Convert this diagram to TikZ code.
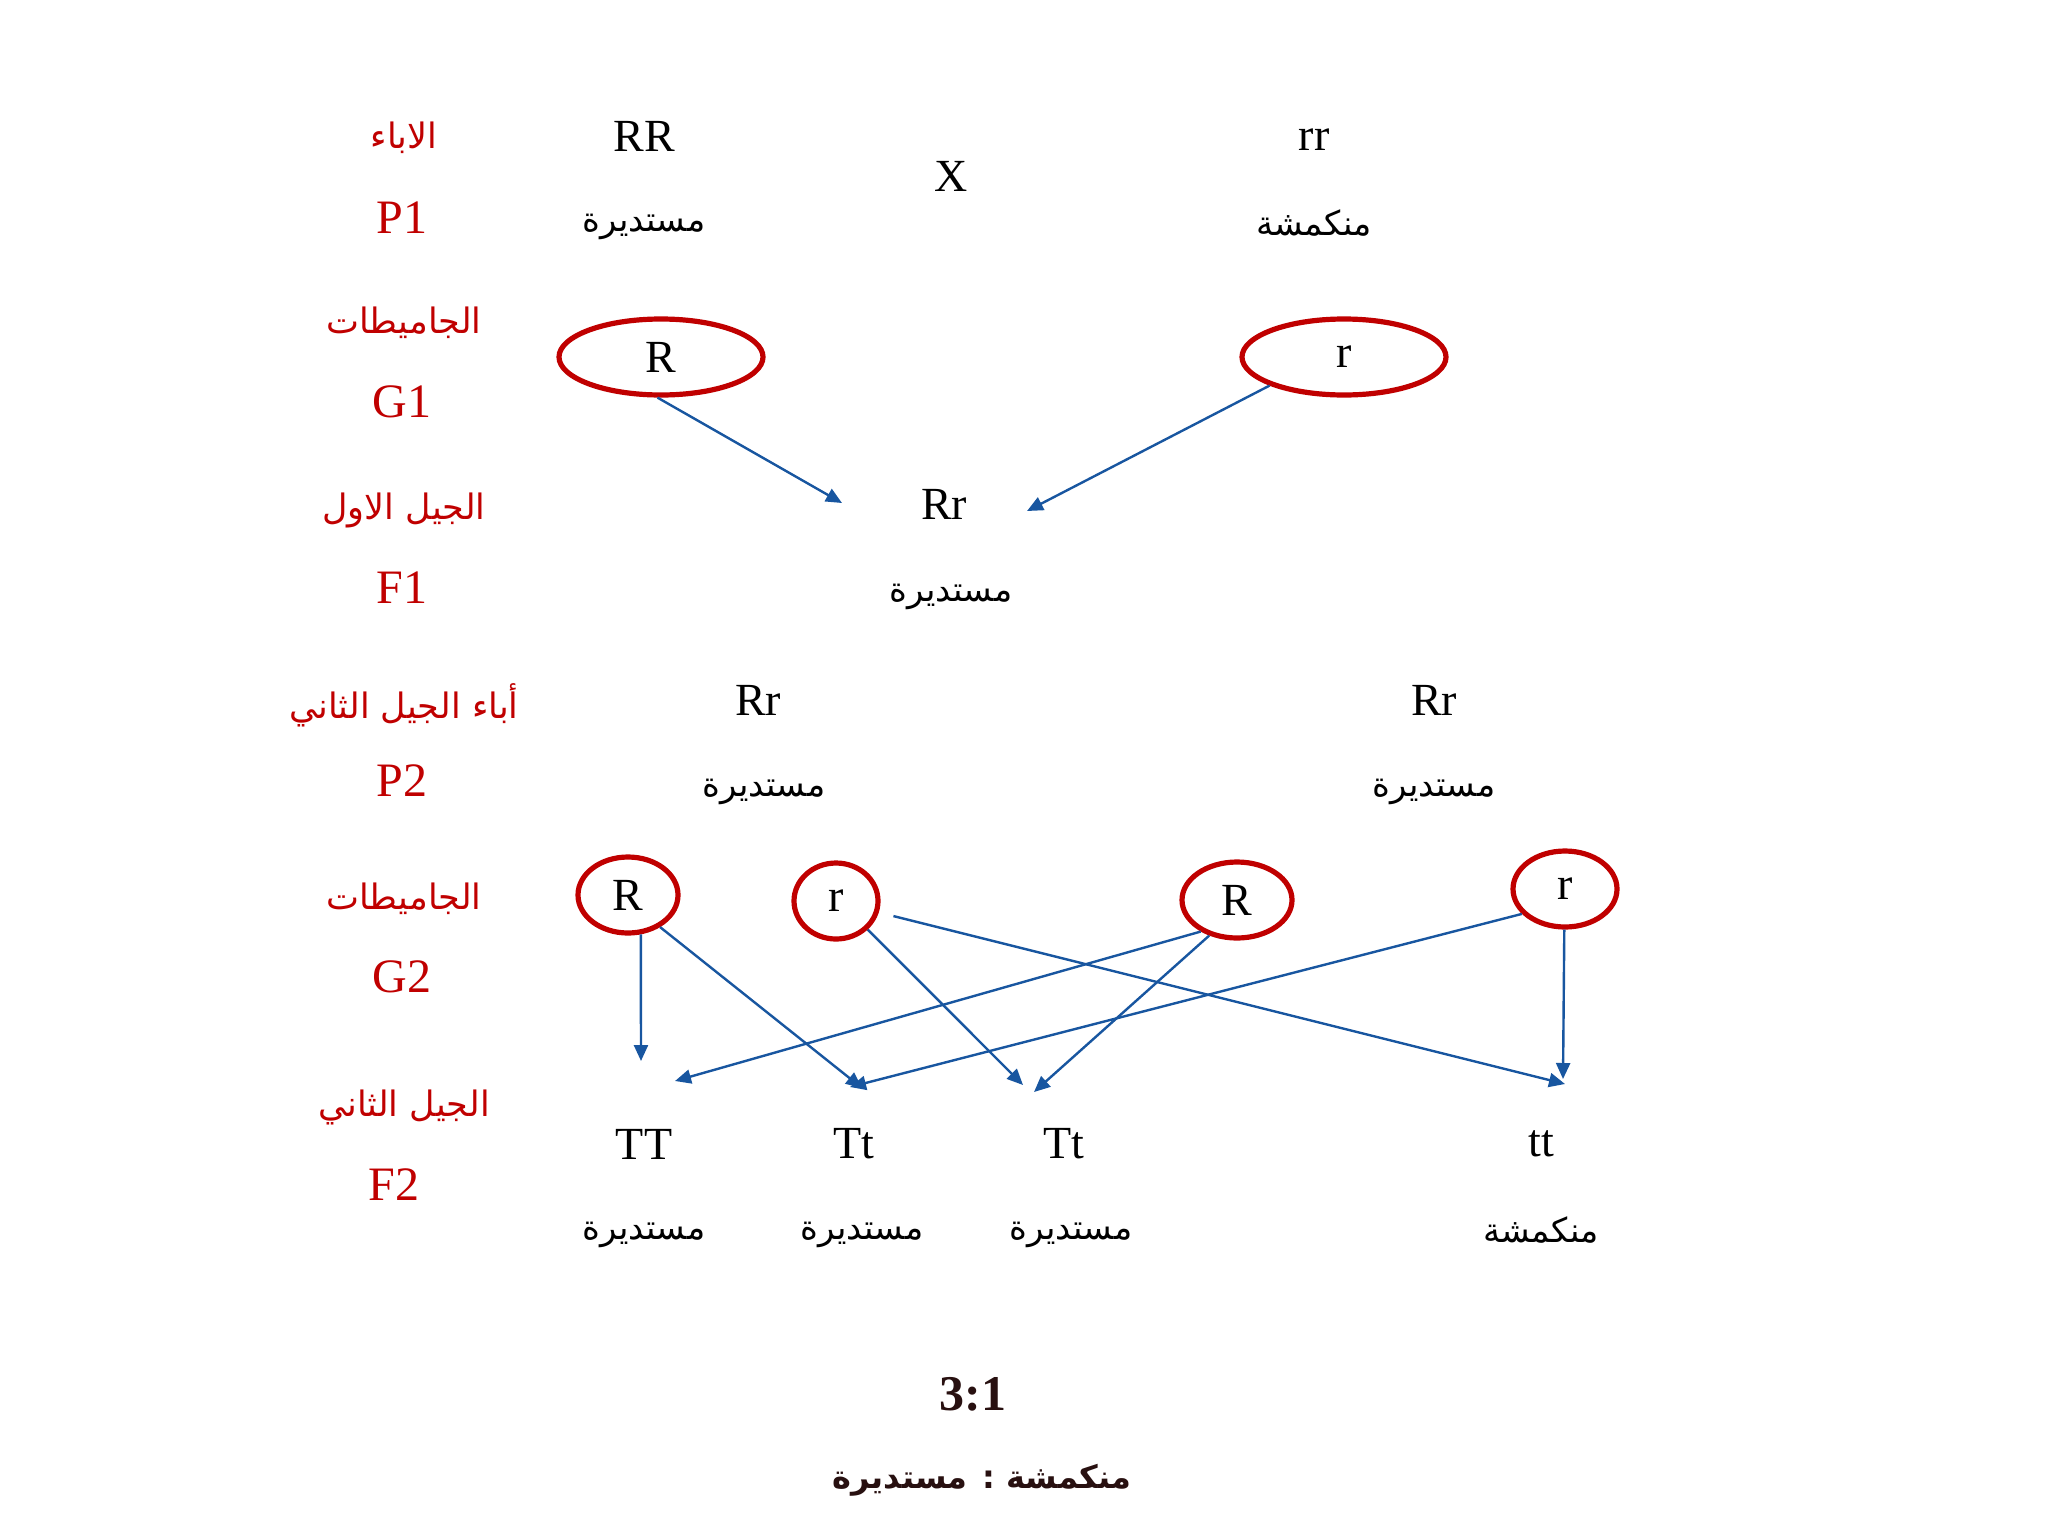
\documentclass[tikz,border=0pt]{standalone}
\usepackage{fontspec}
\setmainfont{Liberation Serif}
\newfontfamily\arabicfont[Script=Arabic]{DejaVu Sans}
\TeXXeTstate=1
\usetikzlibrary{shapes.geometric,arrows.meta}
\definecolor{lblred}{RGB}{192,0,0}
\definecolor{arrblue}{RGB}{24,86,160}
\definecolor{darktxt}{RGB}{40,16,16}
\newcommand{\artxt}[1]{\beginR #1\endR}
\begin{document}
\begin{tikzpicture}[x=0.5pt,y=-0.5pt,
  lbl/.style={text=lblred,font=\fontsize{24}{28}\selectfont},
  lblar/.style={text=lblred,font=\arabicfont\fontsize{17.5}{22}\selectfont},
  gen/.style={font=\fontsize{23}{28}\selectfont},
  genar/.style={font=\arabicfont\fontsize{17}{22}\selectfont},
  gam/.style={draw=lblred,line width=2.6pt,ellipse,inner sep=0pt,font=\fontsize{23}{28}\selectfont},
  arr/.style={draw=arrblue,line width=1.2pt,-{Triangle[length=8pt,width=7pt]}},
]
\useasboundingbox[fill=white] (0,0) rectangle (2048,1536);

% left column labels
\node[lblar] (l1) at (404,138) {\artxt{الاباء}};
\node[lbl]   (l2) at (402,218) {P1};
\node[lblar] (l3) at (404,323) {\artxt{الجاميطات}};
\node[lbl]   (l4) at (402,402) {G1};
\node[lblar] (l5) at (404,510) {\artxt{الجيل الاول}};
\node[lbl]   (l6) at (402,588) {F1};
\node[lblar] (l7) at (404,705) {\artxt{أباء الجيل الثاني}};
\node[lbl]   (l8) at (402,781) {P2};
\node[lblar] (l9) at (404,899) {\artxt{الجاميطات}};
\node[lbl]   (l10) at (402,977) {G2};
\node[lblar] (l11) at (404,1107) {\artxt{الجيل الثاني}};
\node[lbl]   (l12) at (394,1185) {F2};

% P1
\node[gen]   (p1a) at (644,136) {RR};
\node[genar] (p1aph) at (644,227) {\artxt{مستديرة}};
\node[gen]   (cross) at (951,176) {X};
\node[gen]   (p1b) at (1314,140) {rr};
\node[genar] (p1bph) at (1314,223) {\artxt{منكمشة}};

% G1
\node[gam,minimum width=102pt,minimum height=38pt] (g1a) at (661,357) {R};
\node[gam,minimum width=102pt,minimum height=38pt] (g1b) at (1344,357) {r};

% F1
\node[gen]   (f1) at (944,504) {Rr};
\node[genar] (f1ph) at (951,597) {\artxt{مستديرة}};
\coordinate (f1l) at (842,503);
\coordinate (f1r) at (1027,511);
\draw[arr] (g1a.-95) -- (f1l);
\draw[arr] (g1b.-159) -- (f1r);

% P2
\node[gen]   (p2a) at (758,700) {Rr};
\node[genar] (p2aph) at (764,792) {\artxt{مستديرة}};
\node[gen]   (p2b) at (1434,700) {Rr};
\node[genar] (p2bph) at (1434,792) {\artxt{مستديرة}};

% G2
\node[gam,minimum width=50pt,minimum height=38pt] (g2a) at (628,895) {R};
\node[gam,minimum width=42pt,minimum height=38pt] (g2b) at (836,901) {r};
\node[gam,minimum width=55pt,minimum height=38pt] (g2c) at (1237,900) {R};
\node[gam,minimum width=52pt,minimum height=38pt] (g2d) at (1565,889) {r};

% F2
\node[gen]   (f2a) at (644,1144) {TT};
\node[genar] (f2aph) at (644,1235) {\artxt{مستديرة}};
\node[gen]   (f2b) at (854,1144) {Tt};
\node[genar] (f2bph) at (862,1235) {\artxt{مستديرة}};
\node[gen]   (f2c) at (1064,1144) {Tt};
\node[genar] (f2cph) at (1071,1235) {\artxt{مستديرة}};
\node[gen]   (f2d) at (1541,1144) {tt};
\node[genar] (f2dph) at (1541,1230) {\artxt{منكمشة}};

\coordinate (t1) at (641,1061);
\coordinate (t2) at (862,1088);
\coordinate (t3) at (675,1081);
\coordinate (t4) at (850,1087);
\coordinate (t5) at (1023,1085);
\coordinate (t6) at (1034,1092);
\coordinate (t7) at (1565,1084);
\coordinate (t8) at (1563,1079);

\draw[arr] (g2a.-72) -- (t1);
\draw[arr] (g2a.-45) -- (t2);
\draw[arr] (g2c.-139) -- (t3);
\draw[arr] (g2d.-150) -- (t4);
\draw[arr] (g2b.-42) -- (t5);
\draw[arr] (g2c.-128) -- (t6);
\draw[arr] ([xshift=8pt]g2b.-20) -- (t7);
\draw[arr] (g2d.-91) -- (t8);

% ratio
\node[font=\bfseries\fontsize{25}{30}\selectfont,text=darktxt] (ratio) at (973,1394) {3:1};
\node[font=\arabicfont\bfseries\fontsize{16}{20}\selectfont,text=darktxt] (ratioph) at (982,1480) {\artxt{منكمشة : مستديرة}};
\end{tikzpicture}
\end{document}
